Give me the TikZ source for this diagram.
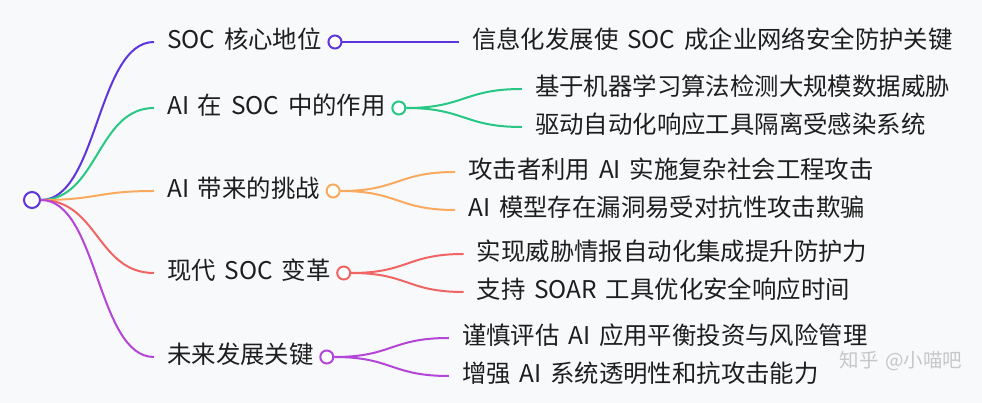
\documentclass[tikz,border=0pt]{standalone}
\usepackage{fontspec}
\setmainfont[WordSpace=1.6]{Noto Sans CJK SC}
\usetikzlibrary{calc,positioning}
\definecolor{cbg}{RGB}{248,249,251}
\definecolor{ctext}{RGB}{30,30,30}
\definecolor{cindigo}{RGB}{94,53,221}
\definecolor{cgreen}{RGB}{38,200,132}
\definecolor{corange}{RGB}{250,170,95}
\definecolor{cred}{RGB}{240,100,100}
\definecolor{cviolet}{RGB}{180,70,215}
\tikzset{x=1pt,y=1pt}

\begin{document}
\begin{tikzpicture}[%
		topic/.style={anchor=west, inner xsep=13pt, inner ysep=0pt, text height=18pt, text depth=4pt, text=ctext, font=\fontsize{24.4}{28}\selectfont},%
		dot/.style={circle, draw, line width=2pt, fill=white, minimum size=13pt, inner sep=0pt},%
		branch/.style={line width=2pt}]
	\fill[cbg] (0,0) rectangle (982,403);
	\useasboundingbox (0,0) rectangle (982,403);

	\node[dot, minimum size=16pt, draw=cindigo] (root) at (32,203) {};

	% first level
	\node[topic] (soc) at (154,361) {SOC 核心地位};
	\node[topic] (ai) at (154,295) {AI 在 SOC 中的作用};
	\node[topic] (chal) at (154,212) {AI 带来的挑战};
	\node[topic] (mod) at (154,130) {现代 SOC 变革};
	\node[topic] (fut) at (154,46) {未来发展关键};

	\node[dot, draw=cindigo] (dsoc) at (soc.east) {};
	\node[dot, draw=cgreen] (dai) at (ai.east) {};
	\node[dot, draw=corange] (dchal) at (chal.east) {};
	\node[dot, draw=cred] (dmod) at (mod.east) {};
	\node[dot, draw=cviolet] (dfut) at (fut.east) {};

	\draw[branch, cindigo] (root.east) .. controls +(57,0) and +(-57,0) .. (soc.west);
	\draw[branch, cgreen] (root.east) .. controls +(57,0) and +(-57,0) .. (ai.west);
	\draw[branch, corange] (root.east) .. controls +(57,0) and +(-57,0) .. (chal.west);
	\draw[branch, cred] (root.east) .. controls +(57,0) and +(-57,0) .. (mod.west);
	\draw[branch, cviolet] (root.east) .. controls +(57,0) and +(-57,0) .. (fut.west);

	% second level
	\node[topic] (soc1) at ($(dsoc)+(124,0)$) {信息化发展使 SOC 成企业网络安全防护关键};
	\node[topic] (ai1) at ($(dai)+(123,19)$) {基于机器学习算法检测大规模数据威胁};
	\node[topic] (ai2) at ($(dai)+(123,-19)$) {驱动自动化响应工具隔离受感染系统};
	\node[topic] (chal1) at ($(dchal)+(122,19)$) {攻击者利用 AI 实施复杂社会工程攻击};
	\node[topic] (chal2) at ($(dchal)+(122,-19)$) {AI 模型存在漏洞易受对抗性攻击欺骗};
	\node[topic] (mod1) at ($(dmod)+(120,19)$) {实现威胁情报自动化集成提升防护力};
	\node[topic] (mod2) at ($(dmod)+(120,-19)$) {支持 SOAR 工具优化安全响应时间};
	\node[topic] (fut1) at ($(dfut)+(122,19)$) {谨慎评估 AI 应用平衡投资与风险管理};
	\node[topic] (fut2) at ($(dfut)+(122,-19)$) {增强 AI 系统透明性和抗攻击能力};

	\draw[branch, cindigo] (dsoc.east) -- (soc1.west);
	\draw[branch, cgreen] (dai.east) .. controls +(58,0) and +(-58,0) .. (ai1.west);
	\draw[branch, cgreen] (dai.east) .. controls +(58,0) and +(-58,0) .. (ai2.west);
	\draw[branch, corange] (dchal.east) .. controls +(58,0) and +(-58,0) .. (chal1.west);
	\draw[branch, corange] (dchal.east) .. controls +(58,0) and +(-58,0) .. (chal2.west);
	\draw[branch, cred] (dmod.east) .. controls +(57,0) and +(-57,0) .. (mod1.west);
	\draw[branch, cred] (dmod.east) .. controls +(57,0) and +(-57,0) .. (mod2.west);
	\draw[branch, cviolet] (dfut.east) .. controls +(58,0) and +(-58,0) .. (fut1.west);
	\draw[branch, cviolet] (dfut.east) .. controls +(58,0) and +(-58,0) .. (fut2.west);

	% watermark
	\node[text=black!22, font=\fontsize{19.5}{24}\selectfont] (mark) at (901,42) {知乎 @小喵吧};
\end{tikzpicture}
\end{document}
